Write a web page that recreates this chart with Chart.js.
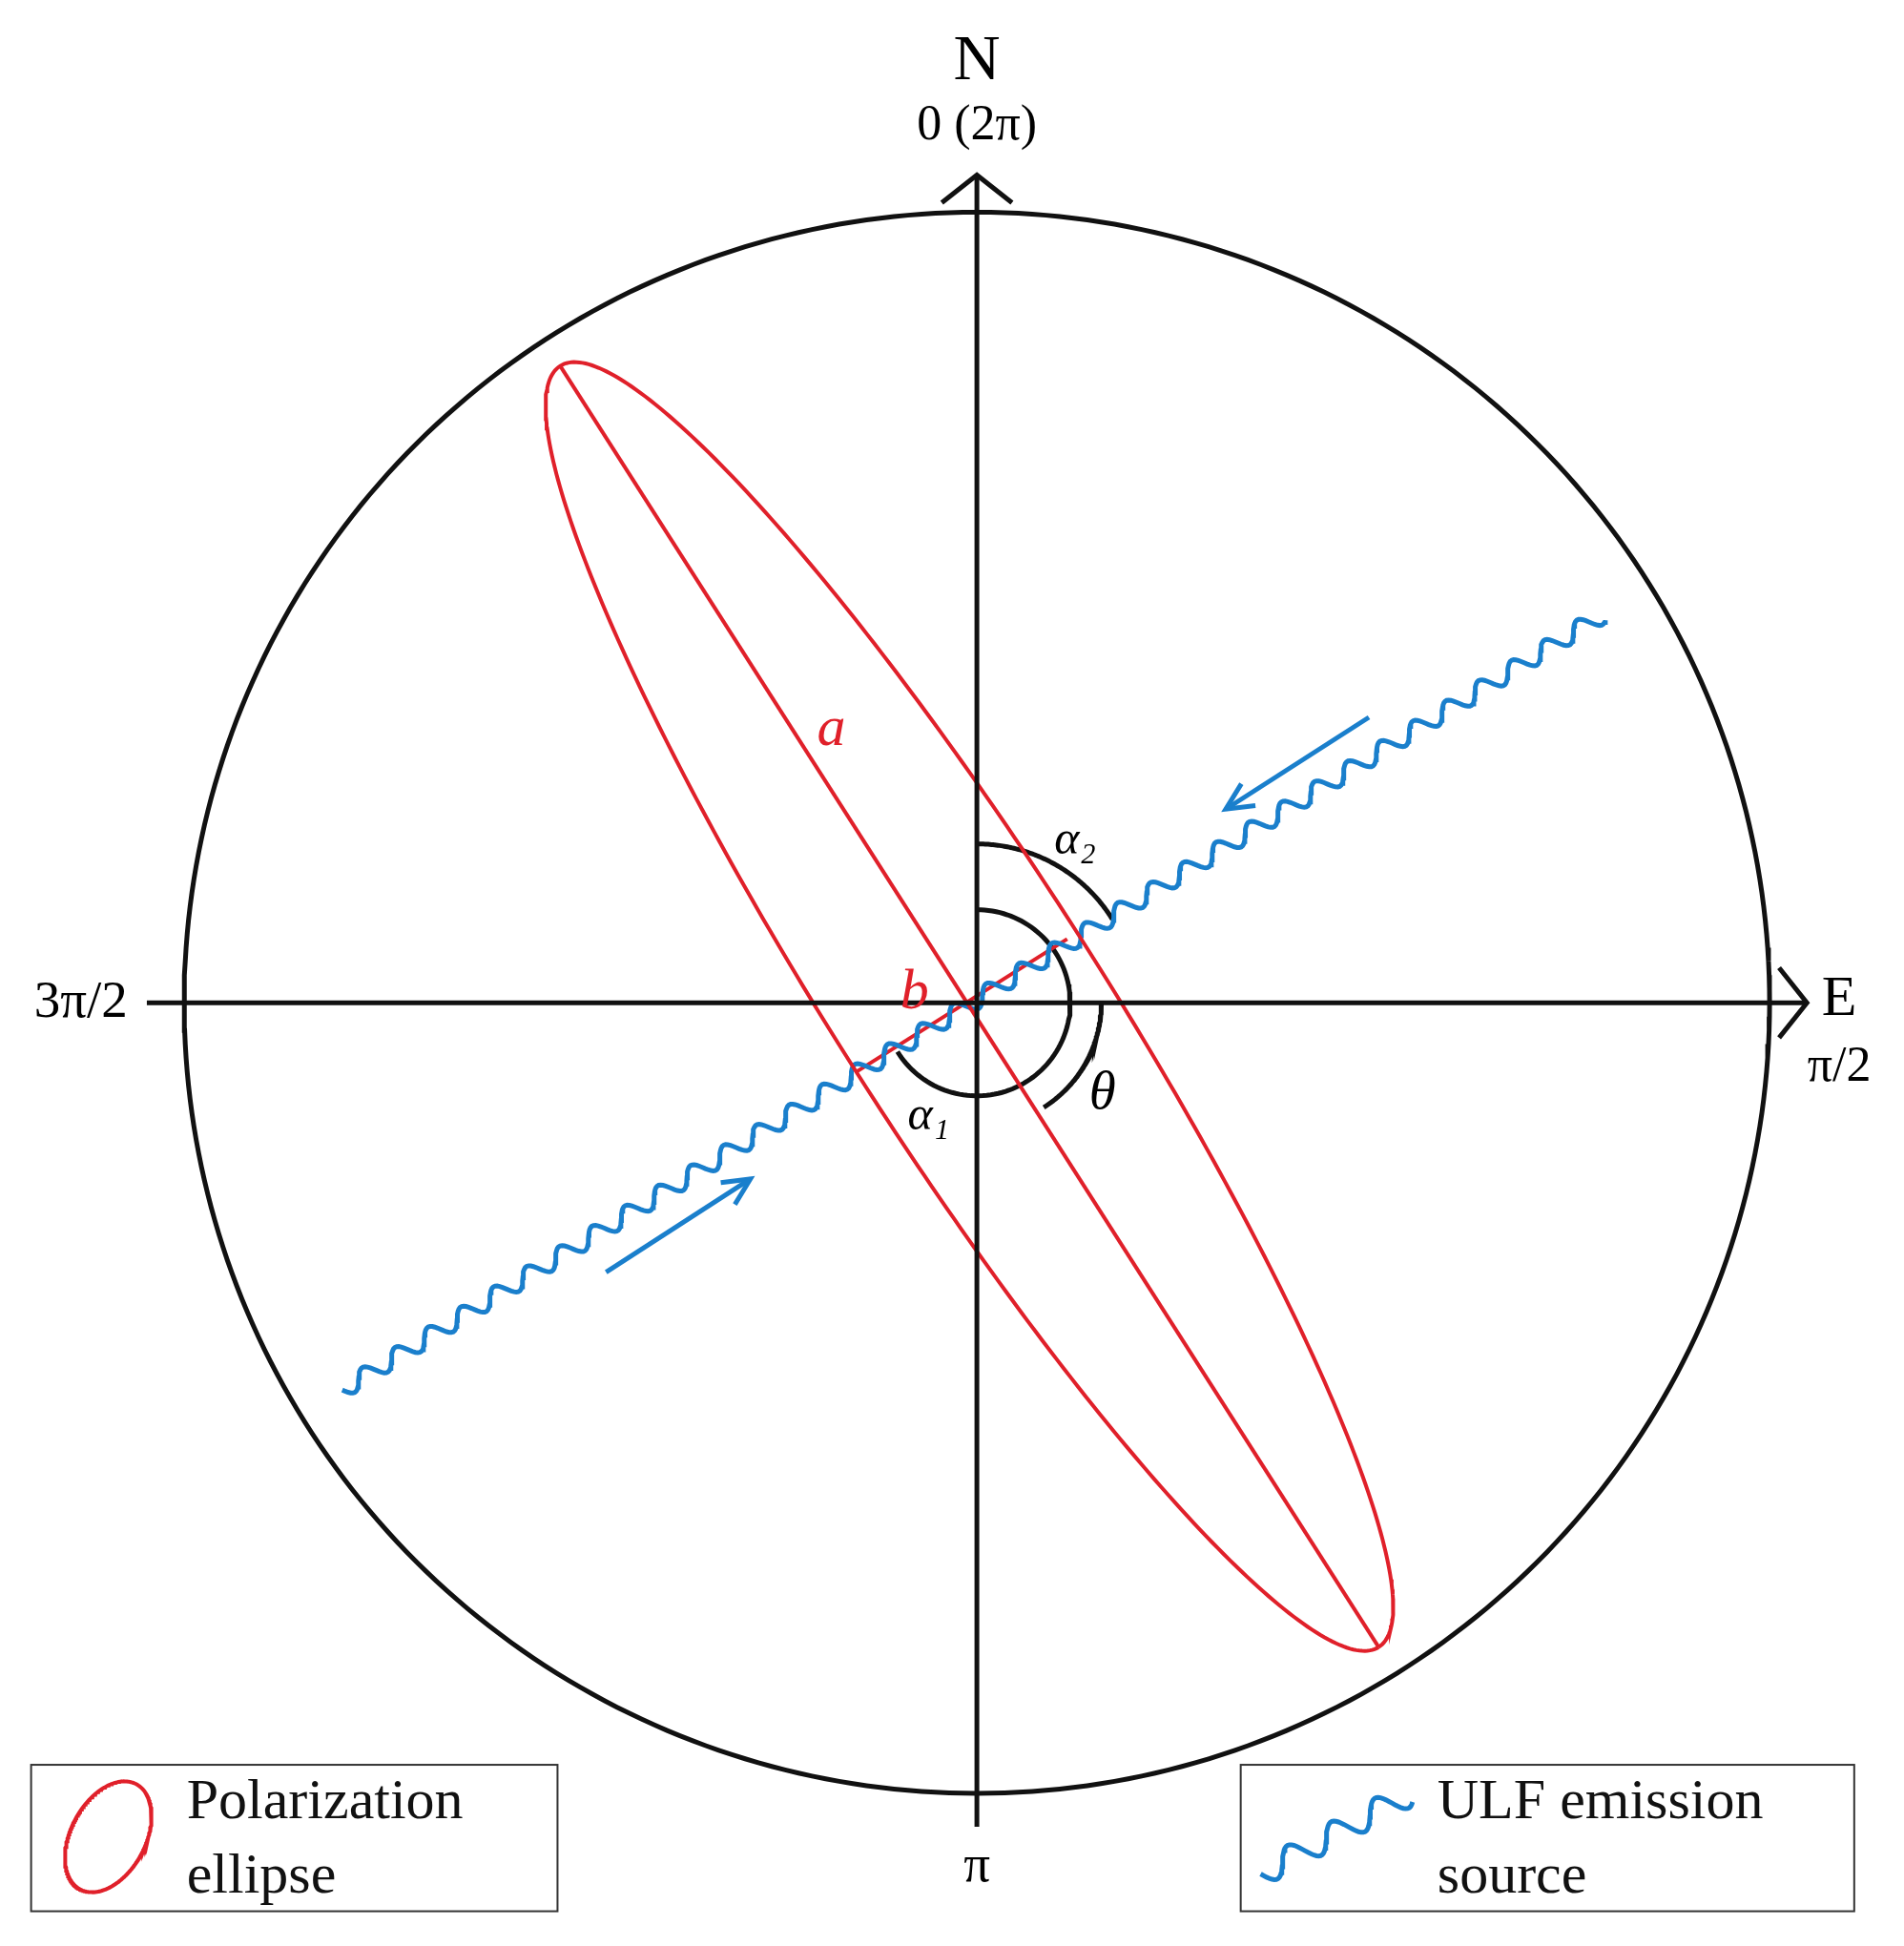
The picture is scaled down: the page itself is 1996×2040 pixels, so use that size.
<!DOCTYPE html>
<html lang="en">
<head>
<meta charset="UTF-8">
<title>Polarization ellipse</title>
<script src="https://cdn.jsdelivr.net/npm/chart.js"></script>
<style>body{margin:0;background:#fff}</style>
</head>
<body>
<canvas id="c" width="1996" height="2040"></canvas>
<script>
// diagram geometry (reference units, 1530 x 1568 frame)
var center = [785, 808];
var circleRadius = 637;
var ellipseCenter = [779, 811];
var ellipseAxes = [612, 105];      // a, b
var ellipseAngle = 57.5;           // degrees below +x
var waveStart = [275, 1120];
var waveEnd = [1288, 495];
var waveLength = 31, waveAmp = 7;
var arrows = [[[487, 1025], [603, 950]], [[1100, 578], [985, 652]]];
var arcs = [ // radius, from, to (deg, screen coords, clockwise from +x)
  [128, -90, -31.7],
  [75, -90, 148.3],
  [100, 0, 57.5]
];
var labels = [
  ['N', 785, 50, 52, 'black', ''], ['0 (2π)', 785, 102, 40, 'black', ''],
  ['3π/2', 65, 808, 42, 'black', ''], ['E', 1478, 806, 46, 'black', ''],
  ['π/2', 1478, 860, 40, 'black', ''], ['π', 785, 1505, 42, 'black', ''],
  ['a', 668, 588, 46, '#e0202a', 'italic '], ['b', 735, 800, 46, '#e0202a', 'italic '],
  ['α₂', 864, 678, 38, 'black', 'italic '], ['α₁', 746, 900, 38, 'black', 'italic '],
  ['θ', 886, 882, 44, 'black', 'italic ']
];
var legendBoxes = [[25, 1422, 423, 118], [997, 1422, 493, 118]];
var legendTexts = [['Polarization', 150, 1453], ['ellipse', 150, 1513], ['ULF emission', 1155, 1453], ['source', 1155, 1513]];

function ellipsePts(cx, cy, a, b, ang) {
  var r = ang * Math.PI / 180, p = [];
  for (var i = 0; i <= 360; i++) {
    var t = i * Math.PI / 180, x = a * Math.cos(t), y = b * Math.sin(t);
    p.push({x: cx + x * Math.cos(r) - y * Math.sin(r), y: cy + x * Math.sin(r) + y * Math.cos(r)});
  }
  return p;
}
function wavePts(s, e, lam, amp) {
  var dx = e[0] - s[0], dy = e[1] - s[1], L = Math.hypot(dx, dy), ux = dx / L, uy = dy / L, p = [];
  for (var t = 0; t <= L; t += 1.5) {
    var o = amp * Math.sin(2 * Math.PI * t / lam);
    p.push({x: s[0] + ux * t - uy * o, y: s[1] + uy * t + ux * o});
  }
  return p;
}
function arcPts(r, a0, a1) {
  var p = [];
  for (var i = 0; i <= 100; i++) {
    var t = (a0 + (a1 - a0) * i / 100) * Math.PI / 180;
    p.push({x: center[0] + r * Math.cos(t), y: center[1] + r * Math.sin(t)});
  }
  return p;
}
function head(from, to, len, spread) {
  var ang = Math.atan2(to[1] - from[1], to[0] - from[0]), p = [];
  [ang + Math.PI - spread, ang + Math.PI + spread].forEach(function (a, i) {
    if (i == 1) p.push({x: to[0], y: to[1]});
    p.push({x: to[0] + len * Math.cos(a), y: to[1] + len * Math.sin(a)});
    if (i == 0) p.push({x: to[0], y: to[1]});
  });
  return [p[0], p[1], p[3]];
}
function line(pts, color, w) {
  return {data: pts, showLine: true, borderColor: color, borderWidth: w, pointRadius: 0, fill: false, tension: 0};
}

var red = '#e0202a', blue = '#1a7fcc';
var rad = ellipseAngle * Math.PI / 180;
var majA = [ellipseCenter[0] - ellipseAxes[0] * Math.cos(rad), ellipseCenter[1] - ellipseAxes[0] * Math.sin(rad)];
var majB = [ellipseCenter[0] + ellipseAxes[0] * Math.cos(rad), ellipseCenter[1] + ellipseAxes[0] * Math.sin(rad)];
var minA = [ellipseCenter[0] + ellipseAxes[1] * Math.sin(rad) - 10, ellipseCenter[1] - ellipseAxes[1] * Math.cos(rad) + 2];
var minB = [ellipseCenter[0] - ellipseAxes[1] * Math.sin(rad) - 2, ellipseCenter[1] + ellipseAxes[1] * Math.cos(rad) - 4];

var datasets = [
  line(ellipsePts(center[0], center[1], circleRadius, circleRadius, 0), '#111', 5),
  line([{x: center[0], y: 1472}, {x: center[0], y: 141}], '#111', 5),
  line(head([center[0], 1472], [center[0], 141], 36, 0.9), '#111', 5),
  line([{x: 118, y: center[1]}, {x: 1452, y: center[1]}], '#111', 5),
  line(head([118, center[1]], [1452, center[1]], 36, 0.9), '#111', 5),
  line(ellipsePts(ellipseCenter[0], ellipseCenter[1], ellipseAxes[0], ellipseAxes[1], ellipseAngle), red, 4),
  line([{x: majA[0], y: majA[1]}, {x: majB[0], y: majB[1]}], red, 4),
  line(wavePts(waveStart, waveEnd, waveLength, waveAmp), blue, 5),
  line([{x: minA[0], y: minA[1]}, {x: minB[0], y: minB[1]}], red, 4),
  line(ellipsePts(87, 1480, 48, 30, -62), red, 4),
  line(wavePts([1013, 1510], [1133, 1445], 40, 10), blue, 5)
];
arrows.forEach(function (a) {
  datasets.push(line([{x: a[0][0], y: a[0][1]}, {x: a[1][0], y: a[1][1]}], blue, 5));
  datasets.push(line(head(a[0], a[1], 24, 0.45), blue, 5));
});
arcs.forEach(function (a) { datasets.push(line(arcPts(a[0], a[1], a[2]), '#111', 5)); });

var textPlugin = {
  id: 'texts',
  afterDatasetsDraw: function (chart) {
    var c = chart.ctx, sx = chart.scales.x, sy = chart.scales.y, k = sx.width / 1530;
    c.save();
    c.textAlign = 'center'; c.textBaseline = 'middle';
    labels.forEach(function (l) {
      c.fillStyle = l[4];
      c.font = l[5] + Math.round(l[3] * k) + 'px "Liberation Serif", serif';
      c.fillText(l[0], sx.getPixelForValue(l[1]), sy.getPixelForValue(l[2]));
    });
    c.strokeStyle = '#333'; c.lineWidth = 2;
    legendBoxes.forEach(function (b) {
      var x0 = sx.getPixelForValue(b[0]), y0 = sy.getPixelForValue(b[1]);
      c.strokeRect(x0, y0, sx.getPixelForValue(b[0] + b[2]) - x0, sy.getPixelForValue(b[1] + b[3]) - y0);
    });
    c.textAlign = 'left'; c.fillStyle = '#111';
    c.font = Math.round(46 * k) + 'px "Liberation Serif", serif';
    legendTexts.forEach(function (t) {
      c.fillText(t[0], sx.getPixelForValue(t[1]), sy.getPixelForValue(t[2]));
    });
    c.restore();
  }
};

new Chart(document.getElementById('c'), {
  type: 'scatter',
  data: {datasets: datasets},
  options: {
    responsive: false, animation: false, devicePixelRatio: 1,
    layout: {padding: 0},
    plugins: {legend: {display: false}, tooltip: {enabled: false}},
    scales: {
      x: {type: 'linear', min: 0, max: 1530, display: false},
      y: {type: 'linear', min: 0, max: 1568, reverse: true, display: false}
    }
  },
  plugins: [textPlugin]
});
</script>
</body>
</html>
